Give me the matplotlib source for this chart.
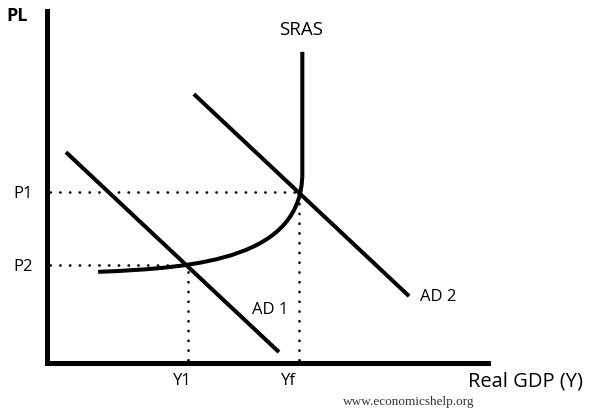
import numpy as np
import matplotlib
matplotlib.use("Agg")
import matplotlib.pyplot as plt
from matplotlib.path import Path
from matplotlib.patches import PathPatch

# price levels and output levels (chart units, 0-100)
p_levels = [48.6, 27.8]
p_labels = ["P1", "P2"]
y_levels = [32.0, 57.2]
y_labels = ["Y1", "Yf"]
y_label_pos = [30.6, 54.8]

# aggregate demand lines (start, end)
ad1_x = [4.3, 52.6]
ad1_y = [59.9, 3.1]
ad2_x = [33.3, 82.1]
ad2_y = [76.4, 19.0]

# SRAS: vertical part, then a bend down to the left
sras_pts = [(57.9, 88.4), (57.9, 54.0), (57.9, 30.0), (35.0, 27.0), (11.6, 25.9)]

plt.rcParams['font.family'] = ['Open Sans', 'DejaVu Sans']

fig = plt.figure(figsize=(6, 4.2), dpi=100)
ax = fig.add_axes([47/600, (420-363)/420, (488-47)/600, (363-11)/420])
ax.set_xlim(0, 100)
ax.set_ylim(0, 100)

for s in ['top', 'right']:
    ax.spines[s].set_visible(False)
for s in ['left', 'bottom']:
    ax.spines[s].set_linewidth(3.6)

lw = 2.9
dot = dict(color='k', linewidth=1.9, linestyle=(0, (0.1, 3.6)), dash_capstyle='round')

ax.plot(ad1_x, ad1_y, color='k', linewidth=lw, solid_capstyle='butt')
ax.plot(ad2_x, ad2_y, color='k', linewidth=lw, solid_capstyle='butt')

codes = [Path.MOVETO, Path.LINETO, Path.CURVE4, Path.CURVE4, Path.CURVE4]
ax.add_patch(PathPatch(Path(sras_pts, codes), facecolor='none', edgecolor='k',
                       linewidth=lw, capstyle='butt'))

# dotted guides
ax.plot([0.6, y_levels[1]], [p_levels[0]] * 2, **dot)
ax.plot([0.6, y_levels[0]], [p_levels[1]] * 2, **dot)
ax.plot([y_levels[0]] * 2, [0.8, p_levels[1]], **dot)
ax.plot([y_levels[1]] * 2, [0.8, p_levels[0]], **dot)

ax.set_yticks(p_levels)
ax.set_yticklabels(p_labels)
ax.set_xticks([])
ax.tick_params(axis='y', length=0, pad=10, labelsize=12)

for xp, lab in zip(y_label_pos, y_labels):
    ax.text(xp, -5, lab, ha='center', va='center', fontsize=12)

ax.text(57.5, 94.6, "SRAS", ha='center', va='center', fontsize=13.5)
ax.text(50.7, 15.0, "AD 1", ha='center', va='center', fontsize=12)
ax.text(84.5, 18.7, "AD 2", ha='left', va='center', fontsize=12)

fig.text(6/600, 1 - 16/420, "PL", fontsize=13, fontweight='bold', ha='left', va='center')
fig.text(468/600, 1 - 382/420, "Real GDP (Y)", fontsize=14.5, ha='left', va='center')
fig.text(409/600, 1 - 402/420, "www.economicshelp.org", fontsize=9.5,
         family='Liberation Serif', ha='center', va='center', color='#333333')

fig.savefig("out.png", dpi=100)
